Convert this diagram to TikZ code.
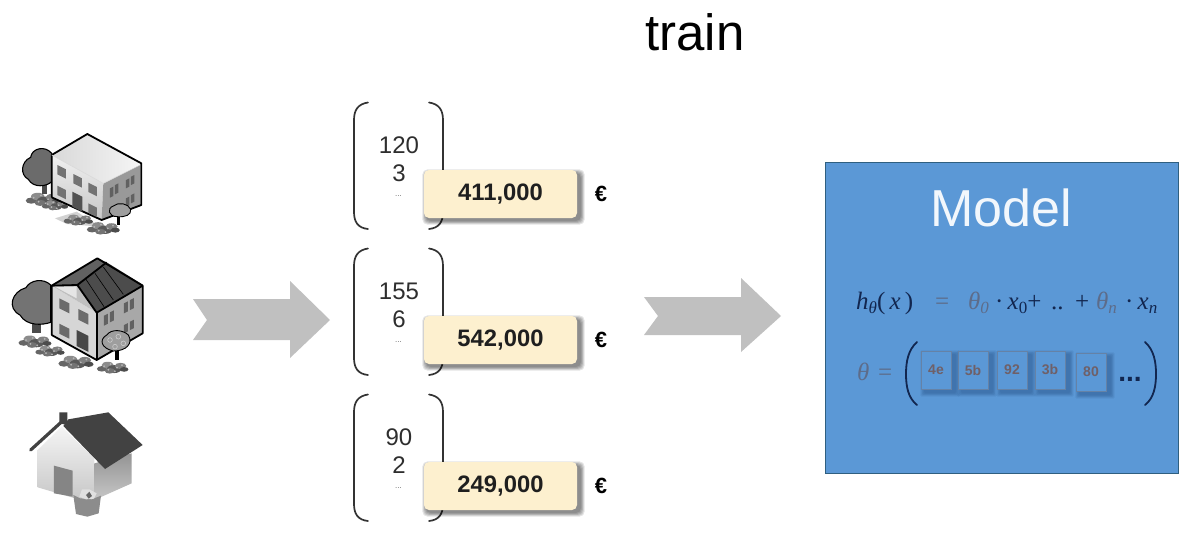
\documentclass[tikz,border=0pt]{standalone}
\usepackage{fontspec}
\setmainfont{Liberation Sans}
\newfontfamily\eqfont{Liberation Serif}
\definecolor{arrowgray}{HTML}{C0C0C0}
\definecolor{cream}{HTML}{FDF0CF}
\definecolor{modelblue}{HTML}{5B98D6}
\definecolor{modeledge}{HTML}{2F5F80}
\definecolor{navy}{HTML}{12264F}
\definecolor{thetagray}{HTML}{5D6C8A}
\definecolor{keytext}{HTML}{6F6068}
\definecolor{keyshadow}{HTML}{234C80}
\newcommand{\pxfont}[1]{\fontsize{#1}{#1}\selectfont}
\newcommand{\softshadow}[6]{% x1 y1 x2 y2 colour radius
  \foreach \g in {0,1,2,3,4}{
    \fill[#5,opacity=0.11,rounded corners=#6] (#1-\g*0.9,#2-\g*0.9) rectangle (#3+\g*0.9,#4+\g*0.9);
  }}
\newcommand{\win}[5]{\fill[#5] (#1,#2) -- ++(#3,#3*0.5) -- ++(0,#4) -- ++(-#3,-#3*0.5) -- cycle;}
\newcommand{\rwin}[5]{\fill[#5] (#1,#2) -- ++(#3,-#3*0.5) -- ++(0,#4) -- ++(-#3,#3*0.5) -- cycle;}
\newcommand{\bush}[3]{%
  \foreach \ox/\oy/\rr/\sh in {-0.75/0.08/0.35/60,-0.35/-0.18/0.42/45,0.1/0.1/0.5/65,0.55/-0.12/0.4/50,0.8/0.12/0.3/70,-0.2/0.22/0.35/55}{
    \fill[black!\sh] (#1+\ox*#3,#2+\oy*#3) ellipse ({\rr*#3} and {\rr*#3*0.55});
  }
  \foreach \ox/\oy in {-0.6/-0.1,-0.15/-0.25,0.3/0,0.65/-0.18,-0.3/0.15,0.15/0.25}{
    \fill[black!28] (#1+\ox*#3,#2+\oy*#3) circle (3);
  }}
\newcommand{\ei}[1]{{\eqfont\itshape #1}}
\newcommand{\esub}[1]{\raisebox{-4.5pt}{\pxfont{17}\eqfont\itshape #1}}
\tikzset{
  titletext/.style={font=\pxfont{51},inner sep=0pt},
  figtext/.style={font=\pxfont{24},text=black!82,inner sep=0pt},
  tinydots/.style={font=\pxfont{8},text=black!60,inner sep=0pt},
  pricebox/.style={fill=cream,rounded corners=5pt,minimum width=153pt,minimum height=48pt,inner sep=0pt,
     font=\pxfont{23.8}\bfseries,text=black!88},
  euro/.style={font=\pxfont{22}\bfseries,inner sep=0pt},
  bracket/.style={draw=black!80,line width=1.7pt,line cap=round},
  bigarrow/.style={fill=arrowgray},
  keybox/.style={draw=keyshadow!70,line width=.7pt,fill=modelblue,minimum width=30pt,minimum height=38pt,inner sep=0pt,
     font=\pxfont{14}\bfseries,text=keytext},
  modelbox/.style={draw=modeledge,line width=1pt,fill=modelblue,minimum width=353pt,minimum height=311pt,inner sep=0pt},
  eq/.style={font=\pxfont{25},inner sep=0pt,text=navy},
  eqt/.style={font=\pxfont{25},inner sep=0pt,text=thetagray},
  paren/.style={draw=navy,line width=1.8pt,line cap=round},
  edge3/.style={draw=black,line width=1.8pt,line join=round},
  zoomA/.style={x=0.33333pt,y=-0.33333pt,yshift=-120pt},
  zoomB/.style={x=0.33333pt,y=-0.33333pt,yshift=-245pt},
  zoomC/.style={x=0.33333pt,y=-0.33333pt,yshift=-400pt},
}
\begin{document}
\begin{tikzpicture}[x=1pt,y=-1pt]
\useasboundingbox (0,0) rectangle (1200,541);
\fill[white] (0,0) rectangle (1200,541);

\node[titletext] (title) at (695,32) {train};

% house 1
\begin{scope}[zoomA]
  \fill[gray!35] (165,295) -- (230,275) -- (300,320) -- (200,312) -- cycle;
  \bush{130}{238}{48}\bush{165}{256}{36}\bush{235}{300}{40}\bush{310}{325}{45}
  \fill[black!70] (125,190) rectangle (140,222);
  \fill[white] (140,190) rectangle (152,222);
  \draw[draw=black,line width=1.1pt,fill=black!58] (155,100) .. controls (135,75) and (95,85) .. (92,112)
     .. controls (62,125) and (60,165) .. (85,178) .. controls (100,205) and (140,200) .. (155,185) -- cycle;
  \path[bottom color=black!22,top color=black!6] (155,105) -- (310,190) -- (305,300) -- (155,232) -- cycle;
  \path[fill=black!40] (310,190) -- (420,135) -- (420,255) -- (305,300) -- cycle;
  \path[left color=black!15,right color=black!4] (262,42) -- (424,130) -- (310,190) -- (155,105) -- cycle;
  \draw[edge3] (155,232) -- (155,105) -- (262,42) -- (424,130) -- (424,255) -- (305,300) -- (155,232);
  \draw[black!15,line width=.6pt] (155,105) -- (310,190) -- (420,135);
  \win{172}{135}{26}{28}{black!55}
  \win{220}{162}{26}{28}{black!55}
  \win{265}{188}{26}{28}{black!55}
  \win{172}{197}{26}{28}{black!55}
  \win{265}{250}{26}{28}{black!55}
  \win{217}{215}{30}{45}{black!68}
  \rwin{330}{205}{10}{28}{black!62}\rwin{345}{195}{10}{28}{black!62}
  \rwin{378}{180}{10}{25}{black!62}\rwin{393}{170}{10}{25}{black!62}
  \rwin{378}{235}{10}{25}{black!62}\rwin{393}{225}{10}{25}{black!62}
  \fill[black] (350,290) rectangle (360,315);
  \draw[black,line width=.9pt,fill=black!38] (352,290) .. controls (325,290) and (320,265) .. (340,258)
     .. controls (355,245) and (385,250) .. (392,268) .. controls (395,285) and (375,292) .. (352,290) -- cycle;
\end{scope}

% house 2
\begin{scope}[zoomB]
  \bush{105}{290}{45}\bush{150}{318}{40}\bush{228}{352}{48}\bush{338}{368}{43}
  \fill[black!70] (95,225) rectangle (122,265);
  \draw[draw=black,line width=1.1pt,fill=black!55] (152,120) .. controls (130,98) and (90,105) .. (78,128)
     .. controls (35,140) and (20,190) .. (60,210) .. controls (80,245) and (130,240) .. (152,232) -- cycle;
  \path[fill=black!16] (155,122) -- (290,203) -- (290,345) -- (155,270) -- cycle;
  \path[fill=black!34] (290,203) -- (428,122) -- (428,265) -- (290,345) -- cycle;
  \path[fill=black!25] (155,122) -- (232,120) -- (290,203) -- cycle;
  \path[fill=black!10] (165,125) -- (230,125) -- (230,160) -- cycle;
  \path[fill=black!62] (155,122) -- (292,40) -- (320,52) -- (232,120) -- cycle;
  \path[fill=black!70] (320,52) -- (430,120) -- (290,203) -- (232,120) -- cycle;
  \draw[black,line width=.6pt] (258,103) -- (312,185) (285,85) -- (340,165) (310,66) -- (370,148);
  \draw[edge3] (155,270) -- (155,122) -- (292,40) -- (428,122) -- (428,265) -- (290,345) -- (155,270);
  \draw[edge3] (155,122) -- (232,120) -- (290,203) -- (428,122);
  \draw[edge3] (232,120) -- (320,52);
  \draw[edge3] (290,203) -- (290,345);
  \win{178}{160}{30}{30}{black!58}
  \win{235}{192}{30}{32}{black!58}
  \win{178}{236}{30}{30}{black!58}
  \win{230}{255}{35}{48}{black!72}
  \rwin{312}{212}{12}{30}{black!62}\rwin{330}{202}{12}{30}{black!62}
  \rwin{372}{175}{12}{30}{black!62}\rwin{390}{165}{12}{30}{black!62}
  \rwin{372}{240}{12}{25}{black!62}\rwin{390}{230}{12}{25}{black!62}
  \fill[black] (345,315) rectangle (358,345);
  \draw[black,line width=.9pt,fill=black!38] (340,318) .. controls (305,310) and (295,285) .. (320,270)
     .. controls (335,250) and (370,255) .. (385,270) .. controls (400,295) and (380,318) .. (340,318) -- cycle;
  \foreach \p/\q in {330/285,355/275,370/295,345/305}{\draw[black!20,line width=.6pt] (\p,\q) circle (7);}
\end{scope}

% house 3
\begin{scope}[zoomC]
  \path[top color=black!4,bottom color=black!22] (113,150) -- (185,80) -- (283,175) -- (283,300) -- (225,295) -- (113,262) -- cycle;
  \path[top color=black!42,bottom color=black!22] (283,190) -- (395,160) -- (395,250) -- (283,300) -- cycle;
  \path[fill=black!74] (205,58) -- (325,37) -- (428,135) -- (315,207) -- (190,78) -- cycle;
  \path[fill=black!74] (178,37) -- (202,37) -- (202,75) -- (178,70) -- cycle;
  \draw[black!74,line width=3.2pt,line cap=round] (92,150) -- (182,68);
  \path[fill=black!48] (162,197) -- (218,212) -- (218,290) -- (162,280) -- cycle;
  \path[fill=black!45] (220,285) -- (240,295) -- (275,298) -- (303,287) -- (296,340) -- (262,350) -- (228,342) -- cycle;
  \path[fill=black!12] (238,290) -- (246,268) -- (268,268) -- (290,280) -- (282,296) -- (258,298) -- cycle;
  \path[fill=black!60] (258,285) -- (268,275) -- (276,288) -- (266,296) -- cycle;
\end{scope}

% arrows
\fill[bigarrow] (193,299) -- (290,299) -- (290,281) -- (330,320) -- (290,358) -- (290,340) -- (193,340) -- (207,320) -- cycle;
\fill[bigarrow] (644,297) -- (741,297) -- (741,278) -- (781,316) -- (741,352) -- (741,335) -- (644,335) -- (658,316) -- cycle;

% vectors
\foreach \dy/\a/\b/\p/\n in {0/120/3/{411,000}/pa,146/155/6/{542,000}/pb,292/90/2/{249,000}/pc}{
  \begin{scope}[yshift=-\dy pt]
    \draw[bracket] (368,102.5) .. controls (358,104) and (354,110) .. (354,120) -- (354,212)
       .. controls (354,222) and (358,228) .. (368,229);
    \draw[bracket] (429,102.5) .. controls (439,104) and (443,110) .. (443,120) -- (443,212)
       .. controls (443,222) and (439,228) .. (429,229);
    \node[figtext] (\n a) at (399,145) {\a};
    \node[figtext] (\n b) at (399,173) {\b};
    \node[tinydots] (\n c) at (398.5,196) {...};
    \softshadow{426}{173}{581}{221}{black}{5pt}
    \node[pricebox] (\n) at (500.5,194) {\p};
    \node[euro] (\n e) at (601,194) {€};
  \end{scope}
}

% model
\node[modelbox] (model) at (1001.5,317.5) {};
\node[font=\pxfont{52},text=white!92!modelblue,inner sep=0pt] (modeltitle) at (1001,208) {Model};

\node[eq,anchor=base west] (hx) at (856,309) {\ei{h}\esub{θ}{\eqfont(}\,\ei{x}\,{\eqfont)}};
\node[eqt,anchor=base west] (eq1) at (935,309) {\eqfont=};
\node[eqt,anchor=base west] (t0) at (968,309) {\ei{θ}\esub{0}};
\node[eq,anchor=base west] (x0) at (995,309) {\eqfont·\,\ei{x}\esub{\upshape 0}+};
\node[eq,anchor=base west] (dd) at (1051,309) {\eqfont..};
\node[eq,anchor=base west] (pl) at (1075,309) {\eqfont+};
\node[eqt,anchor=base west] (tn) at (1096,309) {\ei{θ}\esub{n}};
\node[eq,anchor=base west] (xn) at (1125,309) {\eqfont·\,\ei{x}\esub{n}};

\node[eqt,anchor=base west] (th) at (857,380) {\ei{θ}};
\node[eqt,anchor=base west] (eq2) at (878,380) {\eqfont=};
\draw[paren] (917,342) .. controls (908,350) and (906,362) .. (906,374) .. controls (906,386) and (908,398) .. (917,405);
\draw[paren] (1145,342) .. controls (1154,350) and (1156,362) .. (1156,374) .. controls (1156,386) and (1154,398) .. (1145,405);

\foreach \cx/\cy/\t/\n in {936/370/4e/ka,973/370/5b/kb,1012/370/92/kc,1050/370/3b/kd,1091/372/80/ke}{
  \softshadow{\cx-12}{\cy-16}{\cx+20}{\cy+23}{keyshadow}{1pt}
  \node[keybox] (\n) at (\cx,\cy) {\t};
}
\node[font=\pxfont{28}\bfseries,text=navy,inner sep=0pt] (dots) at (1130,379) {...};
\end{tikzpicture}
\end{document}
